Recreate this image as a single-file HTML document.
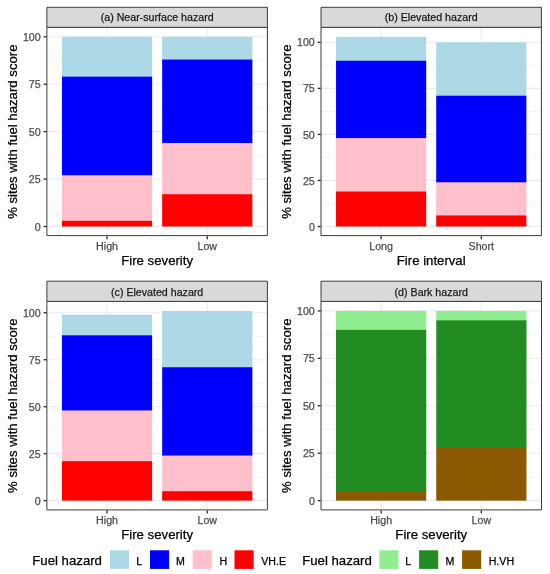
<!DOCTYPE html>
<html lang="en"><head><meta charset="utf-8"><title>Fuel hazard by fire severity and interval</title>
<style>html,body{margin:0;padding:0;background:#fff}body{width:550px;height:574px;overflow:hidden;font-family:"Liberation Sans",Arial,sans-serif}svg{display:block}</style>
</head><body>
<svg width="550" height="574" viewBox="0 0 550 574" font-family="Liberation Sans, Arial, Helvetica, sans-serif" stroke-linejoin="round">
<rect width="550" height="574" fill="#fff"/>
<g>
<line x1="46.90" x2="267.40" y1="202.80" y2="202.80" stroke="#EBEBEB" stroke-width="0.55"/>
<line x1="46.90" x2="267.40" y1="155.37" y2="155.37" stroke="#EBEBEB" stroke-width="0.55"/>
<line x1="46.90" x2="267.40" y1="107.93" y2="107.93" stroke="#EBEBEB" stroke-width="0.55"/>
<line x1="46.90" x2="267.40" y1="60.50" y2="60.50" stroke="#EBEBEB" stroke-width="0.55"/>
<line x1="46.90" x2="267.40" y1="226.51" y2="226.51" stroke="#EBEBEB" stroke-width="1.10"/>
<line x1="46.90" x2="267.40" y1="179.08" y2="179.08" stroke="#EBEBEB" stroke-width="1.10"/>
<line x1="46.90" x2="267.40" y1="131.65" y2="131.65" stroke="#EBEBEB" stroke-width="1.10"/>
<line x1="46.90" x2="267.40" y1="84.22" y2="84.22" stroke="#EBEBEB" stroke-width="1.10"/>
<line x1="46.90" x2="267.40" y1="36.79" y2="36.79" stroke="#EBEBEB" stroke-width="1.10"/>
<line x1="107.04" x2="107.04" y1="27.30" y2="236.00" stroke="#EBEBEB" stroke-width="1.10"/>
<line x1="207.26" x2="207.26" y1="27.30" y2="236.00" stroke="#EBEBEB" stroke-width="1.10"/>
<rect x="61.93" y="36.79" width="90.20" height="40.44" fill="#ADD8E6"/>
<rect x="61.93" y="76.63" width="90.20" height="99.26" fill="#0000FF"/>
<rect x="61.93" y="175.29" width="90.20" height="46.13" fill="#FFC0CB"/>
<rect x="61.93" y="220.82" width="90.20" height="5.69" fill="#FF0000"/>
<rect x="162.16" y="36.79" width="90.20" height="23.37" fill="#ADD8E6"/>
<rect x="162.16" y="59.55" width="90.20" height="84.08" fill="#0000FF"/>
<rect x="162.16" y="143.03" width="90.20" height="51.83" fill="#FFC0CB"/>
<rect x="162.16" y="194.26" width="90.20" height="32.25" fill="#FF0000"/>
<rect x="46.90" y="27.30" width="220.50" height="208.30" fill="none" stroke="#3d3d3d" stroke-width="1.00"/>
<rect x="46.90" y="7.30" width="220.50" height="20.00" fill="#D9D9D9" stroke="#3d3d3d" stroke-width="1.00"/>
<text x="157.15" y="21.40" font-size="10.65" fill="#1A1A1A" stroke="#1A1A1A" stroke-width="0.25" text-anchor="middle">(a) Near-surface hazard</text>
<line x1="43.60" x2="46.60" y1="226.51" y2="226.51" stroke="#262626" stroke-width="1.3"/>
<text x="40.70" y="230.61" font-size="10.65" fill="#4D4D4D" stroke="#4D4D4D" stroke-width="0.25" text-anchor="end">0</text>
<line x1="43.60" x2="46.60" y1="179.08" y2="179.08" stroke="#262626" stroke-width="1.3"/>
<text x="40.70" y="183.18" font-size="10.65" fill="#4D4D4D" stroke="#4D4D4D" stroke-width="0.25" text-anchor="end">25</text>
<line x1="43.60" x2="46.60" y1="131.65" y2="131.65" stroke="#262626" stroke-width="1.3"/>
<text x="40.70" y="135.75" font-size="10.65" fill="#4D4D4D" stroke="#4D4D4D" stroke-width="0.25" text-anchor="end">50</text>
<line x1="43.60" x2="46.60" y1="84.22" y2="84.22" stroke="#262626" stroke-width="1.3"/>
<text x="40.70" y="88.32" font-size="10.65" fill="#4D4D4D" stroke="#4D4D4D" stroke-width="0.25" text-anchor="end">75</text>
<line x1="43.60" x2="46.60" y1="36.79" y2="36.79" stroke="#262626" stroke-width="1.3"/>
<text x="40.70" y="40.89" font-size="10.65" fill="#4D4D4D" stroke="#4D4D4D" stroke-width="0.25" text-anchor="end">100</text>
<line x1="107.04" x2="107.04" y1="236.30" y2="239.30" stroke="#262626" stroke-width="1.3"/>
<text x="107.04" y="249.50" font-size="10.65" fill="#4D4D4D" stroke="#4D4D4D" stroke-width="0.25" text-anchor="middle">High</text>
<line x1="207.26" x2="207.26" y1="236.30" y2="239.30" stroke="#262626" stroke-width="1.3"/>
<text x="207.26" y="249.50" font-size="10.65" fill="#4D4D4D" stroke="#4D4D4D" stroke-width="0.25" text-anchor="middle">Low</text>
<text x="157.15" y="265.30" font-size="13.2" fill="#000" stroke="#000" stroke-width="0.25" text-anchor="middle">Fire severity</text>
<text transform="translate(16.80,131.65) rotate(-90)" font-size="13.2" fill="#000" stroke="#000" stroke-width="0.25" text-anchor="middle">% sites with fuel hazard score</text>
</g>
<g>
<line x1="321.00" x2="541.40" y1="203.49" y2="203.49" stroke="#EBEBEB" stroke-width="0.55"/>
<line x1="321.00" x2="541.40" y1="157.44" y2="157.44" stroke="#EBEBEB" stroke-width="0.55"/>
<line x1="321.00" x2="541.40" y1="111.39" y2="111.39" stroke="#EBEBEB" stroke-width="0.55"/>
<line x1="321.00" x2="541.40" y1="65.34" y2="65.34" stroke="#EBEBEB" stroke-width="0.55"/>
<line x1="321.00" x2="541.40" y1="226.51" y2="226.51" stroke="#EBEBEB" stroke-width="1.10"/>
<line x1="321.00" x2="541.40" y1="180.46" y2="180.46" stroke="#EBEBEB" stroke-width="1.10"/>
<line x1="321.00" x2="541.40" y1="134.41" y2="134.41" stroke="#EBEBEB" stroke-width="1.10"/>
<line x1="321.00" x2="541.40" y1="88.36" y2="88.36" stroke="#EBEBEB" stroke-width="1.10"/>
<line x1="321.00" x2="541.40" y1="42.31" y2="42.31" stroke="#EBEBEB" stroke-width="1.10"/>
<line x1="381.11" x2="381.11" y1="27.30" y2="236.00" stroke="#EBEBEB" stroke-width="1.10"/>
<line x1="481.29" x2="481.29" y1="27.30" y2="236.00" stroke="#EBEBEB" stroke-width="1.10"/>
<rect x="336.03" y="36.79" width="90.16" height="24.55" fill="#ADD8E6"/>
<rect x="336.03" y="60.73" width="90.16" height="77.96" fill="#0000FF"/>
<rect x="336.03" y="138.10" width="90.16" height="54.02" fill="#FFC0CB"/>
<rect x="336.03" y="191.52" width="90.16" height="35.00" fill="#FF0000"/>
<rect x="436.21" y="42.31" width="90.16" height="54.02" fill="#ADD8E6"/>
<rect x="436.21" y="95.73" width="90.16" height="87.17" fill="#0000FF"/>
<rect x="436.21" y="182.31" width="90.16" height="33.76" fill="#FFC0CB"/>
<rect x="436.21" y="215.46" width="90.16" height="11.05" fill="#FF0000"/>
<rect x="321.00" y="27.30" width="220.40" height="208.30" fill="none" stroke="#3d3d3d" stroke-width="1.00"/>
<rect x="321.00" y="7.30" width="220.40" height="20.00" fill="#D9D9D9" stroke="#3d3d3d" stroke-width="1.00"/>
<text x="431.20" y="21.40" font-size="10.65" fill="#1A1A1A" stroke="#1A1A1A" stroke-width="0.25" text-anchor="middle">(b) Elevated hazard</text>
<line x1="317.70" x2="320.70" y1="226.51" y2="226.51" stroke="#262626" stroke-width="1.3"/>
<text x="314.80" y="230.61" font-size="10.65" fill="#4D4D4D" stroke="#4D4D4D" stroke-width="0.25" text-anchor="end">0</text>
<line x1="317.70" x2="320.70" y1="180.46" y2="180.46" stroke="#262626" stroke-width="1.3"/>
<text x="314.80" y="184.56" font-size="10.65" fill="#4D4D4D" stroke="#4D4D4D" stroke-width="0.25" text-anchor="end">25</text>
<line x1="317.70" x2="320.70" y1="134.41" y2="134.41" stroke="#262626" stroke-width="1.3"/>
<text x="314.80" y="138.51" font-size="10.65" fill="#4D4D4D" stroke="#4D4D4D" stroke-width="0.25" text-anchor="end">50</text>
<line x1="317.70" x2="320.70" y1="88.36" y2="88.36" stroke="#262626" stroke-width="1.3"/>
<text x="314.80" y="92.46" font-size="10.65" fill="#4D4D4D" stroke="#4D4D4D" stroke-width="0.25" text-anchor="end">75</text>
<line x1="317.70" x2="320.70" y1="42.31" y2="42.31" stroke="#262626" stroke-width="1.3"/>
<text x="314.80" y="46.41" font-size="10.65" fill="#4D4D4D" stroke="#4D4D4D" stroke-width="0.25" text-anchor="end">100</text>
<line x1="381.11" x2="381.11" y1="236.30" y2="239.30" stroke="#262626" stroke-width="1.3"/>
<text x="381.11" y="249.50" font-size="10.65" fill="#4D4D4D" stroke="#4D4D4D" stroke-width="0.25" text-anchor="middle">Long</text>
<line x1="481.29" x2="481.29" y1="236.30" y2="239.30" stroke="#262626" stroke-width="1.3"/>
<text x="481.29" y="249.50" font-size="10.65" fill="#4D4D4D" stroke="#4D4D4D" stroke-width="0.25" text-anchor="middle">Short</text>
<text x="431.20" y="265.30" font-size="13.2" fill="#000" stroke="#000" stroke-width="0.25" text-anchor="middle">Fire interval</text>
<text transform="translate(290.90,131.65) rotate(-90)" font-size="13.2" fill="#000" stroke="#000" stroke-width="0.25" text-anchor="middle">% sites with fuel hazard score</text>
</g>
<g>
<line x1="46.90" x2="267.40" y1="477.13" y2="477.13" stroke="#EBEBEB" stroke-width="0.55"/>
<line x1="46.90" x2="267.40" y1="430.17" y2="430.17" stroke="#EBEBEB" stroke-width="0.55"/>
<line x1="46.90" x2="267.40" y1="383.21" y2="383.21" stroke="#EBEBEB" stroke-width="0.55"/>
<line x1="46.90" x2="267.40" y1="336.25" y2="336.25" stroke="#EBEBEB" stroke-width="0.55"/>
<line x1="46.90" x2="267.40" y1="500.61" y2="500.61" stroke="#EBEBEB" stroke-width="1.10"/>
<line x1="46.90" x2="267.40" y1="453.65" y2="453.65" stroke="#EBEBEB" stroke-width="1.10"/>
<line x1="46.90" x2="267.40" y1="406.69" y2="406.69" stroke="#EBEBEB" stroke-width="1.10"/>
<line x1="46.90" x2="267.40" y1="359.73" y2="359.73" stroke="#EBEBEB" stroke-width="1.10"/>
<line x1="46.90" x2="267.40" y1="312.76" y2="312.76" stroke="#EBEBEB" stroke-width="1.10"/>
<line x1="107.04" x2="107.04" y1="301.40" y2="510.10" stroke="#EBEBEB" stroke-width="1.10"/>
<line x1="207.26" x2="207.26" y1="301.40" y2="510.10" stroke="#EBEBEB" stroke-width="1.10"/>
<rect x="61.93" y="314.64" width="90.20" height="21.26" fill="#ADD8E6"/>
<rect x="61.93" y="335.31" width="90.20" height="75.74" fill="#0000FF"/>
<rect x="61.93" y="410.45" width="90.20" height="51.32" fill="#FFC0CB"/>
<rect x="61.93" y="461.17" width="90.20" height="39.45" fill="#FF0000"/>
<rect x="162.16" y="310.89" width="90.20" height="56.95" fill="#ADD8E6"/>
<rect x="162.16" y="367.24" width="90.20" height="88.89" fill="#0000FF"/>
<rect x="162.16" y="455.53" width="90.20" height="36.29" fill="#FFC0CB"/>
<rect x="162.16" y="491.22" width="90.20" height="9.39" fill="#FF0000"/>
<rect x="46.90" y="301.40" width="220.50" height="208.50" fill="none" stroke="#3d3d3d" stroke-width="1.00"/>
<rect x="46.90" y="281.20" width="220.50" height="20.20" fill="#D9D9D9" stroke="#3d3d3d" stroke-width="1.00"/>
<text x="157.15" y="295.50" font-size="10.65" fill="#1A1A1A" stroke="#1A1A1A" stroke-width="0.25" text-anchor="middle">(c) Elevated hazard</text>
<line x1="43.60" x2="46.60" y1="500.61" y2="500.61" stroke="#262626" stroke-width="1.3"/>
<text x="40.70" y="504.71" font-size="10.65" fill="#4D4D4D" stroke="#4D4D4D" stroke-width="0.25" text-anchor="end">0</text>
<line x1="43.60" x2="46.60" y1="453.65" y2="453.65" stroke="#262626" stroke-width="1.3"/>
<text x="40.70" y="457.75" font-size="10.65" fill="#4D4D4D" stroke="#4D4D4D" stroke-width="0.25" text-anchor="end">25</text>
<line x1="43.60" x2="46.60" y1="406.69" y2="406.69" stroke="#262626" stroke-width="1.3"/>
<text x="40.70" y="410.79" font-size="10.65" fill="#4D4D4D" stroke="#4D4D4D" stroke-width="0.25" text-anchor="end">50</text>
<line x1="43.60" x2="46.60" y1="359.73" y2="359.73" stroke="#262626" stroke-width="1.3"/>
<text x="40.70" y="363.83" font-size="10.65" fill="#4D4D4D" stroke="#4D4D4D" stroke-width="0.25" text-anchor="end">75</text>
<line x1="43.60" x2="46.60" y1="312.76" y2="312.76" stroke="#262626" stroke-width="1.3"/>
<text x="40.70" y="316.86" font-size="10.65" fill="#4D4D4D" stroke="#4D4D4D" stroke-width="0.25" text-anchor="end">100</text>
<line x1="107.04" x2="107.04" y1="510.40" y2="513.40" stroke="#262626" stroke-width="1.3"/>
<text x="107.04" y="523.60" font-size="10.65" fill="#4D4D4D" stroke="#4D4D4D" stroke-width="0.25" text-anchor="middle">High</text>
<line x1="207.26" x2="207.26" y1="510.40" y2="513.40" stroke="#262626" stroke-width="1.3"/>
<text x="207.26" y="523.60" font-size="10.65" fill="#4D4D4D" stroke="#4D4D4D" stroke-width="0.25" text-anchor="middle">Low</text>
<text x="157.15" y="539.40" font-size="13.2" fill="#000" stroke="#000" stroke-width="0.25" text-anchor="middle">Fire severity</text>
<text transform="translate(16.80,405.75) rotate(-90)" font-size="13.2" fill="#000" stroke="#000" stroke-width="0.25" text-anchor="middle">% sites with fuel hazard score</text>
</g>
<g>
<line x1="321.00" x2="541.50" y1="476.90" y2="476.90" stroke="#EBEBEB" stroke-width="0.55"/>
<line x1="321.00" x2="541.50" y1="429.47" y2="429.47" stroke="#EBEBEB" stroke-width="0.55"/>
<line x1="321.00" x2="541.50" y1="382.03" y2="382.03" stroke="#EBEBEB" stroke-width="0.55"/>
<line x1="321.00" x2="541.50" y1="334.60" y2="334.60" stroke="#EBEBEB" stroke-width="0.55"/>
<line x1="321.00" x2="541.50" y1="500.61" y2="500.61" stroke="#EBEBEB" stroke-width="1.10"/>
<line x1="321.00" x2="541.50" y1="453.18" y2="453.18" stroke="#EBEBEB" stroke-width="1.10"/>
<line x1="321.00" x2="541.50" y1="405.75" y2="405.75" stroke="#EBEBEB" stroke-width="1.10"/>
<line x1="321.00" x2="541.50" y1="358.32" y2="358.32" stroke="#EBEBEB" stroke-width="1.10"/>
<line x1="321.00" x2="541.50" y1="310.89" y2="310.89" stroke="#EBEBEB" stroke-width="1.10"/>
<line x1="381.14" x2="381.14" y1="301.40" y2="510.10" stroke="#EBEBEB" stroke-width="1.10"/>
<line x1="481.36" x2="481.36" y1="301.40" y2="510.10" stroke="#EBEBEB" stroke-width="1.10"/>
<rect x="336.03" y="310.89" width="90.20" height="19.57" fill="#90EE90"/>
<rect x="336.03" y="329.86" width="90.20" height="161.87" fill="#228B22"/>
<rect x="336.03" y="491.13" width="90.20" height="9.49" fill="#8B5A00"/>
<rect x="436.26" y="310.89" width="90.20" height="10.09" fill="#90EE90"/>
<rect x="436.26" y="320.37" width="90.20" height="127.72" fill="#228B22"/>
<rect x="436.26" y="447.49" width="90.20" height="53.12" fill="#8B5A00"/>
<rect x="321.00" y="301.40" width="220.50" height="208.50" fill="none" stroke="#3d3d3d" stroke-width="1.00"/>
<rect x="321.00" y="281.20" width="220.50" height="20.20" fill="#D9D9D9" stroke="#3d3d3d" stroke-width="1.00"/>
<text x="431.25" y="295.50" font-size="10.65" fill="#1A1A1A" stroke="#1A1A1A" stroke-width="0.25" text-anchor="middle">(d) Bark hazard</text>
<line x1="317.70" x2="320.70" y1="500.61" y2="500.61" stroke="#262626" stroke-width="1.3"/>
<text x="314.80" y="504.71" font-size="10.65" fill="#4D4D4D" stroke="#4D4D4D" stroke-width="0.25" text-anchor="end">0</text>
<line x1="317.70" x2="320.70" y1="453.18" y2="453.18" stroke="#262626" stroke-width="1.3"/>
<text x="314.80" y="457.28" font-size="10.65" fill="#4D4D4D" stroke="#4D4D4D" stroke-width="0.25" text-anchor="end">25</text>
<line x1="317.70" x2="320.70" y1="405.75" y2="405.75" stroke="#262626" stroke-width="1.3"/>
<text x="314.80" y="409.85" font-size="10.65" fill="#4D4D4D" stroke="#4D4D4D" stroke-width="0.25" text-anchor="end">50</text>
<line x1="317.70" x2="320.70" y1="358.32" y2="358.32" stroke="#262626" stroke-width="1.3"/>
<text x="314.80" y="362.42" font-size="10.65" fill="#4D4D4D" stroke="#4D4D4D" stroke-width="0.25" text-anchor="end">75</text>
<line x1="317.70" x2="320.70" y1="310.89" y2="310.89" stroke="#262626" stroke-width="1.3"/>
<text x="314.80" y="314.99" font-size="10.65" fill="#4D4D4D" stroke="#4D4D4D" stroke-width="0.25" text-anchor="end">100</text>
<line x1="381.14" x2="381.14" y1="510.40" y2="513.40" stroke="#262626" stroke-width="1.3"/>
<text x="381.14" y="523.60" font-size="10.65" fill="#4D4D4D" stroke="#4D4D4D" stroke-width="0.25" text-anchor="middle">High</text>
<line x1="481.36" x2="481.36" y1="510.40" y2="513.40" stroke="#262626" stroke-width="1.3"/>
<text x="481.36" y="523.60" font-size="10.65" fill="#4D4D4D" stroke="#4D4D4D" stroke-width="0.25" text-anchor="middle">Low</text>
<text x="431.25" y="539.40" font-size="13.2" fill="#000" stroke="#000" stroke-width="0.25" text-anchor="middle">Fire severity</text>
<text transform="translate(290.90,405.75) rotate(-90)" font-size="13.2" fill="#000" stroke="#000" stroke-width="0.25" text-anchor="middle">% sites with fuel hazard score</text>
</g>
<text x="32.30" y="564.6" font-size="13.2" fill="#000" stroke="#000" stroke-width="0.25">Fuel hazard</text>
<rect x="110.00" y="550.3" width="19.1" height="18.6" fill="#ADD8E6"/>
<text x="136.20" y="564.6" font-size="10.65" fill="#000" stroke="#000" stroke-width="0.25">L</text>
<rect x="150.00" y="550.3" width="19.1" height="18.6" fill="#0000FF"/>
<text x="175.90" y="564.6" font-size="10.65" fill="#000" stroke="#000" stroke-width="0.25">M</text>
<rect x="192.70" y="550.3" width="19.1" height="18.6" fill="#FFC0CB"/>
<text x="219.60" y="564.6" font-size="10.65" fill="#000" stroke="#000" stroke-width="0.25">H</text>
<rect x="234.50" y="550.3" width="19.1" height="18.6" fill="#FF0000"/>
<text x="261.20" y="564.6" font-size="10.65" fill="#000" stroke="#000" stroke-width="0.25">VH.E</text>
<text x="302.20" y="564.6" font-size="13.2" fill="#000" stroke="#000" stroke-width="0.25">Fuel hazard</text>
<rect x="379.30" y="550.3" width="19.1" height="18.6" fill="#90EE90"/>
<text x="405.30" y="564.6" font-size="10.65" fill="#000" stroke="#000" stroke-width="0.25">L</text>
<rect x="419.10" y="550.3" width="19.1" height="18.6" fill="#228B22"/>
<text x="445.50" y="564.6" font-size="10.65" fill="#000" stroke="#000" stroke-width="0.25">M</text>
<rect x="462.10" y="550.3" width="19.1" height="18.6" fill="#8B5A00"/>
<text x="488.70" y="564.6" font-size="10.65" fill="#000" stroke="#000" stroke-width="0.25">H.VH</text>
</svg>
</body></html>
